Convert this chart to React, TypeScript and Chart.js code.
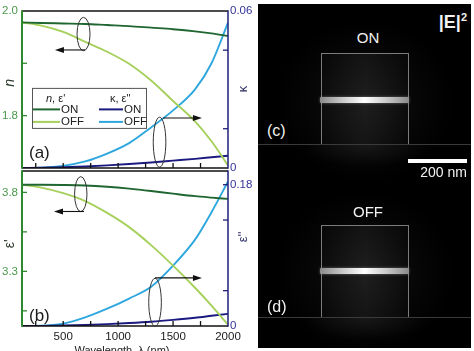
import React, { useEffect, useRef } from 'react';
import { Chart, registerables } from 'chart.js';

Chart.register(...registerables);

// ---------------- data ----------------
const wavelength = [125, 300, 500, 700, 900, 1100, 1300, 1500, 1700, 1850, 2000];
const nOn = [1.978, 1.977, 1.976, 1.975, 1.973, 1.971, 1.968, 1.965, 1.961, 1.957, 1.952];
const nOff = [1.978, 1.972, 1.96, 1.941, 1.922, 1.899, 1.867, 1.828, 1.789, 1.751, 1.705];
const kappaOn = [0, 0.0001, 0.0003, 0.0006, 0.001, 0.0015, 0.0021, 0.0028, 0.0035, 0.0041, 0.0047];
const kappaOff = [0, 0.0001, 0.0008, 0.0025, 0.0055, 0.0095, 0.0155, 0.022, 0.03, 0.04, 0.0555];
const epsReOn = [3.848, 3.848, 3.847, 3.844, 3.836, 3.824, 3.809, 3.792, 3.776, 3.767, 3.759];
const epsReOff = [3.848, 3.83, 3.795, 3.745, 3.67, 3.58, 3.466, 3.336, 3.196, 3.083, 2.962];
const epsImOn = [0, 0.0002, 0.0006, 0.0013, 0.0024, 0.0038, 0.0055, 0.0078, 0.0105, 0.013, 0.0155];
const epsImOff = [0, 0.0003, 0.003, 0.011, 0.022, 0.035, 0.05, 0.077, 0.11, 0.145, 0.184];

const xTicks = [250, 500, 750, 1000, 1250, 1500, 1750, 2000];
const xTickLabels = ['', '500', '', '1000', '', '1500', '', '2000'];
const nTicks = [1.7, 1.8, 1.9, 2.0];
const nTickLabels = ['', '1.8', '', '2.0'];
const kappaTicks = [0, 0.015, 0.045, 0.06];
const kappaTickLabels = ['0', '', '', '0.06'];
const epsReTicks = [3.05, 3.3, 3.55, 3.8];
const epsReTickLabels = ['', '3.3', '', '3.8'];
const epsImTicks = [0, 0.045, 0.135, 0.18];
const epsImTickLabels = ['0', '', '', '0.18'];

// ---------------- styles ----------------
const FONT = '"Liberation Sans", Arial, Helvetica, sans-serif';
const GREEN_AXIS = '#2f8a2f';
const GREEN_LABEL = '#4a984a';
const NAVY_AXIS = '#1f1f7a';
const NAVY_LABEL = '#33339a';
const C_ON_L = '#1f6630';
const C_OFF_L = '#a6d05c';
const C_ON_R = '#1a1a80';
const C_OFF_R = '#2ea6de';

function labelFor(values: number[], labels: string[], v: number) {
  const i = values.findIndex((t) => Math.abs(t - v) < 1e-9);
  return i >= 0 ? labels[i] : '';
}

interface Ellipse { x: number; y: number; axis: 'yL' | 'yR'; rx: number; ry: number }
interface Arrow { x1: number; x2: number; y: number; axis: 'yL' | 'yR' }

interface PanelSpec {
  id: string;
  leftOn: number[]; leftOff: number[]; rightOn: number[]; rightOff: number[];
  yLMin: number; yLMax: number; yLTicks: number[]; yLLabels: string[];
  yRMin: number; yRMax: number; yRTicks: number[]; yRLabels: string[];
  showXLabels: boolean; xAxisHeight: number; padTop: number;
  leftTitle: string; leftItalic: boolean; leftTitleY: number;
  rightTitle: string; rightTitleY: number;
  tag: string; tagY: number;
  legend: boolean; xTitle: boolean;
  ellipses: Ellipse[]; arrows: Arrow[];
}

const panelA: PanelSpec = {
  id: 'a',
  leftOn: nOn, leftOff: nOff, rightOn: kappaOn, rightOff: kappaOff,
  yLMin: 1.7, yLMax: 2.0, yLTicks: nTicks, yLLabels: nTickLabels,
  yRMin: 0, yRMax: 0.06, yRTicks: kappaTicks, yRLabels: kappaTickLabels,
  showXLabels: false, xAxisHeight: 12, padTop: 10,
  leftTitle: 'n', leftItalic: true, leftTitleY: 72,
  rightTitle: 'κ', rightTitleY: 78,
  tag: '(a)', tagY: 147,
  legend: true, xTitle: false,
  ellipses: [
    { x: 685, y: 1.9558, axis: 'yL', rx: 6.5, ry: 16.7 },
    { x: 1377, y: 0.00987, axis: 'yR', rx: 6.3, ry: 25 },
  ],
  arrows: [
    { x1: 698, x2: 425, y: 1.9254, axis: 'yL' },
    { x1: 1408, x2: 1763, y: 0.0191, axis: 'yR' },
  ],
};

const panelB: PanelSpec = {
  id: 'b',
  leftOn: epsReOn, leftOff: epsReOff, rightOn: epsImOn, rightOff: epsImOff,
  yLMin: 2.954, yLMax: 3.936, yLTicks: epsReTicks, yLLabels: epsReTickLabels,
  yRMin: 0, yRMax: 0.1976, yRTicks: epsImTicks, yRLabels: epsImTickLabels,
  showXLabels: true, xAxisHeight: 25, padTop: 9,
  leftTitle: "ε'", leftItalic: false, leftTitleY: 73,
  rightTitle: "ε''", rightTitleY: 66,
  tag: '(b)', tagY: 150,
  legend: false, xTitle: true,
  ellipses: [
    { x: 660, y: 3.789, axis: 'yL', rx: 6.2, ry: 17.5 },
    { x: 1336, y: 0.0302, axis: 'yR', rx: 6.3, ry: 24 },
  ],
  arrows: [
    { x1: 689, x2: 416, y: 3.679, axis: 'yL' },
    { x1: 1336, x2: 1763, y: 0.0613, axis: 'yR' },
  ],
};

function makeDecor(spec: PanelSpec) {
  return {
    id: 'decor_' + spec.id,
    afterDatasetsDraw(chart: any) {
      const ctx: CanvasRenderingContext2D = chart.ctx;
      const { left, right, top, bottom } = chart.chartArea;
      const sx = chart.scales.x;
      const sl = chart.scales.yL;
      const sr = chart.scales.yR;
      const line = (x1: number, y1: number, x2: number, y2: number) => {
        ctx.beginPath();
        ctx.moveTo(x1, y1);
        ctx.lineTo(x2, y2);
        ctx.stroke();
      };
      ctx.save();
      const T = 5;
      // inward tick marks
      ctx.lineWidth = 1.3;
      ctx.strokeStyle = '#111';
      xTicks.forEach((v) => {
        if (v <= sx.min || v >= sx.max) return;
        const p = sx.getPixelForValue(v);
        line(p, bottom, p, bottom - T);
      });
      ctx.strokeStyle = GREEN_AXIS;
      spec.yLTicks.forEach((v) => {
        if (v <= sl.min || v >= sl.max) return;
        const p = sl.getPixelForValue(v);
        line(left, p, left + T, p);
      });
      ctx.strokeStyle = NAVY_AXIS;
      spec.yRTicks.forEach((v) => {
        if (v <= sr.min || v >= sr.max) return;
        const p = sr.getPixelForValue(v);
        line(right, p, right - T, p);
      });
      // frame
      ctx.strokeStyle = '#111';
      ctx.lineWidth = 1.5;
      line(left, top, right, top);
      line(left, bottom, right, bottom);
      ctx.strokeStyle = GREEN_AXIS;
      ctx.lineWidth = 2;
      line(left, top - 0.75, left, bottom + 0.75);
      ctx.strokeStyle = NAVY_AXIS;
      ctx.lineWidth = 1.5;
      line(right, top - 0.75, right, bottom + 0.75);

      // annotations
      ctx.strokeStyle = '#333';
      ctx.lineWidth = 1;
      spec.ellipses.forEach((e) => {
        const ax = e.axis === 'yL' ? sl : sr;
        const cx = sx.getPixelForValue(e.x);
        const cy = ax.getPixelForValue(e.y);
        ctx.beginPath();
        ctx.ellipse(cx, cy, e.rx, e.ry, 0, 0, Math.PI * 2);
        ctx.stroke();
      });
      ctx.strokeStyle = '#111';
      ctx.fillStyle = '#111';
      spec.arrows.forEach((a) => {
        const ax = a.axis === 'yL' ? sl : sr;
        const x1 = sx.getPixelForValue(a.x1);
        const x2 = sx.getPixelForValue(a.x2);
        const y = ax.getPixelForValue(a.y);
        const dir = x2 > x1 ? 1 : -1;
        ctx.lineWidth = 1.1;
        line(x1, y, x2 - dir * 6, y);
        ctx.beginPath();
        ctx.moveTo(x2, y);
        ctx.lineTo(x2 - dir * 9, y - 3);
        ctx.lineTo(x2 - dir * 9, y + 3);
        ctx.closePath();
        ctx.fill();
      });

      // panel tag
      ctx.fillStyle = '#1a1a1a';
      ctx.font = `17px ${FONT}`;
      ctx.textAlign = 'left';
      ctx.textBaseline = 'alphabetic';
      ctx.fillText(spec.tag, left + 7, top + spec.tagY);

      // axis titles
      ctx.save();
      ctx.translate(left - 12, top + spec.leftTitleY);
      ctx.rotate(-Math.PI / 2);
      ctx.fillStyle = '#2c3a2c';
      ctx.font = `${spec.leftItalic ? 'italic ' : ''}14px ${FONT}`;
      ctx.textAlign = 'center';
      ctx.textBaseline = 'middle';
      ctx.fillText(spec.leftTitle, 0, 0);
      ctx.restore();
      ctx.save();
      ctx.translate(right + 15, top + spec.rightTitleY);
      ctx.rotate(-Math.PI / 2);
      ctx.fillStyle = '#2a2a60';
      ctx.font = `13px ${FONT}`;
      ctx.textAlign = 'center';
      ctx.textBaseline = 'middle';
      ctx.fillText(spec.rightTitle, 0, 0);
      ctx.restore();

      if (spec.xTitle) {
        ctx.fillStyle = '#1a1a1a';
        ctx.font = `11px ${FONT}`;
        ctx.textAlign = 'center';
        ctx.textBaseline = 'alphabetic';
        ctx.fillText('Wavelength, λ (nm)', left + 100, bottom + 28);
      }

      if (spec.legend) {
        const bx = left + 10;
        const by = top + 77;
        ctx.fillStyle = '#fff';
        ctx.fillRect(bx, by, 114, 40);
        ctx.strokeStyle = '#555';
        ctx.lineWidth = 1;
        ctx.strokeRect(bx + 0.5, by + 0.5, 114, 40);
        ctx.fillStyle = '#222';
        ctx.textBaseline = 'middle';
        ctx.textAlign = 'left';
        const hy = top + 88;
        ctx.font = `italic 11px ${FONT}`;
        ctx.fillText('n', left + 24, hy);
        const w = ctx.measureText('n').width;
        ctx.font = `11px ${FONT}`;
        ctx.fillText(", ε'", left + 24 + w, hy);
        ctx.fillText("κ, ε''", left + 88, hy);
        ctx.font = `11.5px ${FONT}`;
        const rows = [
          { y: top + 98.5, c1: C_ON_L, c2: C_ON_R, t: 'ON' },
          { y: top + 111, c1: C_OFF_L, c2: C_OFF_R, t: 'OFF' },
        ];
        rows.forEach((r) => {
          ctx.lineWidth = 2;
          ctx.strokeStyle = r.c1;
          line(left + 11, r.y, left + 38, r.y);
          ctx.strokeStyle = r.c2;
          line(left + 77, r.y, left + 101, r.y);
          ctx.fillStyle = '#222';
          ctx.fillText(r.t, left + 39, r.y);
          ctx.fillText(r.t, left + 102, r.y);
        });
      }
      ctx.restore();
    },
  };
}

function toPoints(ys: number[]) {
  return wavelength.map((x, i) => ({ x, y: ys[i] }));
}

function buildConfig(spec: PanelSpec): any {
  const ds = (ys: number[], axis: string, color: string) => ({
    data: toPoints(ys),
    yAxisID: axis,
    borderColor: color,
    backgroundColor: color,
    borderWidth: 1.9,
    pointRadius: 0,
    cubicInterpolationMode: 'monotone',
    fill: false,
  });
  const yScale = (
    position: string, min: number, max: number, ticks: number[], labels: string[],
    color: string, width: number, padding: number, size: number,
  ) => ({
    type: 'linear',
    position,
    min,
    max,
    afterBuildTicks: (s: any) => {
      s.ticks = ticks.map((v) => ({ value: v }));
    },
    afterFit: (s: any) => {
      s.width = width;
    },
    grid: { display: false, drawTicks: false },
    border: { display: false },
    ticks: {
      autoSkip: false,
      padding,
      color,
      font: { family: FONT, size },
      callback: (v: number) => labelFor(ticks, labels, v),
    },
  });
  return {
    type: 'line',
    data: {
      datasets: [
        ds(spec.leftOn, 'yL', C_ON_L),
        ds(spec.leftOff, 'yL', C_OFF_L),
        ds(spec.rightOn, 'yR', C_ON_R),
        ds(spec.rightOff, 'yR', C_OFF_R),
      ],
    },
    options: {
      animation: false,
      responsive: false,
      maintainAspectRatio: false,
      devicePixelRatio: 1,
      events: [],
      layout: { padding: { top: spec.padTop, left: 0, right: 0, bottom: 0 } },
      plugins: { legend: { display: false }, tooltip: { enabled: false } },
      scales: {
        x: {
          type: 'linear',
          min: 125,
          max: 2000,
          afterBuildTicks: (s: any) => {
            s.ticks = xTicks.map((v) => ({ value: v }));
          },
          afterFit: (s: any) => {
            s.height = spec.xAxisHeight;
          },
          grid: { display: false, drawTicks: false },
          border: { display: false },
          ticks: {
            display: spec.showXLabels,
            autoSkip: false,
            maxRotation: 0,
            minRotation: 0,
            padding: 4,
            color: '#1a1a1a',
            font: { family: FONT, size: 11.5 },
            callback: (v: number) => labelFor(xTicks, xTickLabels, v),
          },
        },
        yL: yScale('left', spec.yLMin, spec.yLMax, spec.yLTicks, spec.yLLabels, GREEN_LABEL, 22, 4, 11.5),
        yR: yScale('right', spec.yRMin, spec.yRMax, spec.yRTicks, spec.yRLabels, NAVY_LABEL, 30, 2, 11.5),
      },
    },
    plugins: [makeDecor(spec)],
  };
}

// ---------------- dark field panels ----------------
function Txt(props: { children: React.ReactNode; style: React.CSSProperties }) {
  return (
    <div
      style={{
        position: 'absolute',
        whiteSpace: 'nowrap',
        color: '#f2f2f2',
        lineHeight: 1,
        fontFamily: FONT,
        ...props.style,
      }}
    >
      {props.children}
    </div>
  );
}

function Field(props: { rectTop: number; rectH: number; barTop: number }) {
  const { rectTop, rectH, barTop } = props;
  const cy = rectTop + rectH / 2;
  const sub = rectTop + rectH;
  return (
    <>
      <div
        style={{
          position: 'absolute', left: 17, top: cy - 80, width: 180, height: 165,
          background: 'radial-gradient(ellipse closest-side, rgba(255,255,255,0.07), rgba(255,255,255,0.025) 60%, rgba(255,255,255,0) 100%)',
        }}
      />
      <div
        style={{
          position: 'absolute', left: 45, top: sub + 1, width: 125, height: 22,
          background: 'radial-gradient(ellipse 50% 100% at 50% 0%, rgba(255,255,255,0.07), rgba(255,255,255,0))',
        }}
      />
      <div
        style={{
          position: 'absolute', left: 63, top: rectTop, width: 86, height: rectH,
          border: '1px solid #7c7c7c', borderBottom: 'none',
          background: 'linear-gradient(to right, rgba(255,255,255,0.015), rgba(255,255,255,0.055) 50%, rgba(255,255,255,0.015))',
        }}
      />
      <div style={{ position: 'absolute', left: 0, top: sub, width: 213, height: 1, background: '#3a3a3a' }} />
      <div
        style={{
          position: 'absolute', left: 62, top: barTop, width: 89, height: 6,
          background: 'linear-gradient(to right, #8a8a8a, #c8c8c8 25%, #ffffff 50%, #c8c8c8 75%, #8a8a8a)',
          boxShadow: '0 0 3px rgba(255,255,255,0.35)',
          borderRadius: 1,
        }}
      />
    </>
  );
}

export default function App() {
  const refA = useRef<HTMLCanvasElement>(null);
  const refB = useRef<HTMLCanvasElement>(null);

  useEffect(() => {
    const a = new Chart(refA.current as HTMLCanvasElement, buildConfig(panelA));
    const b = new Chart(refB.current as HTMLCanvasElement, buildConfig(panelB));
    return () => {
      a.destroy();
      b.destroy();
    };
  }, []);

  return (
    <div
      style={{
        position: 'fixed', left: 0, top: 0, width: 474, height: 351,
        background: '#fff', overflow: 'hidden', fontFamily: FONT,
      }}
    >
      <canvas ref={refA} width={258} height={180} style={{ position: 'absolute', left: 0, top: 0, width: 258, height: 180 }} />
      <canvas ref={refB} width={258} height={191} style={{ position: 'absolute', left: 0, top: 160, width: 258, height: 191 }} />
      <div
        style={{
          position: 'absolute', left: 258, top: 4, width: 213, height: 344,
          background: '#000', overflow: 'hidden',
        }}
      >
        <Field rectTop={49} rectH={91} barTop={93} />
        <Field rectTop={221} rectH={92} barTop={264} />
        <Txt style={{ right: 4, top: 8.8, fontSize: 18, fontWeight: 'bold' }}>
          |E|<span style={{ fontSize: 11, position: 'relative', top: -7 }}>2</span>
        </Txt>
        <Txt style={{ left: 60, width: 100, textAlign: 'center', top: 26.3, fontSize: 15 }}>ON</Txt>
        <Txt style={{ left: 9, top: 119.4, fontSize: 16 }}>(c)</Txt>
        <div style={{ position: 'absolute', left: 150, top: 155, width: 59, height: 3.5, background: '#fff' }} />
        <Txt style={{ right: 4, top: 161.1, fontSize: 14 }}>200 nm</Txt>
        <Txt style={{ left: 60, width: 100, textAlign: 'center', top: 200.3, fontSize: 15 }}>OFF</Txt>
        <Txt style={{ left: 9, top: 295.4, fontSize: 16 }}>(d)</Txt>
      </div>
    </div>
  );
}
